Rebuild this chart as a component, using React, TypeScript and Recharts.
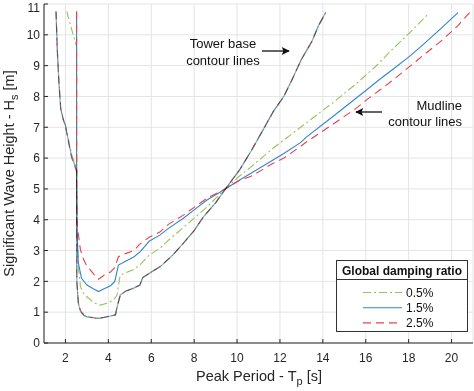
import { LineChart, Line, XAxis, YAxis, CartesianGrid } from 'recharts';

const xTicks = [2, 4, 6, 8, 10, 12, 14, 16, 18, 20];
const yTicks = [0, 1, 2, 3, 4, 5, 6, 7, 8, 9, 10, 11];
const dampingRatios = ['0.5%', '1.5%', '2.5%'];

// tower base contours (the three damping ratios almost coincide)
const towerTp = [1.56, 1.62, 1.7, 1.78, 1.9, 2.0, 2.13, 2.29, 2.42, 2.52, 2.53, 2.6, 2.7, 2.85, 3.0, 3.3, 3.54, 3.8, 4.0, 4.33, 4.42, 4.56, 4.8, 5.18, 5.47, 5.6, 5.95, 6.42, 7.0, 7.5, 8.0, 8.44, 9.0, 9.46, 10.12, 10.63, 11.2, 11.68, 12.18, 12.6, 12.99, 13.5, 13.8, 14.13];
const tower05Hs = [10.76, 9.5, 8.4, 7.6, 7.25, 7.08, 6.65, 6.12, 5.88, 5.65, 2.0, 1.3, 1.02, 0.9, 0.85, 0.82, 0.8, 0.83, 0.86, 0.91, 1.2, 1.56, 1.68, 1.78, 1.88, 2.12, 2.28, 2.48, 2.85, 3.24, 3.65, 4.1, 4.55, 5.0, 5.62, 6.2, 6.9, 7.5, 8.0, 8.6, 9.19, 9.8, 10.3, 10.72];
const tower15Hs = [10.76, 9.5, 8.4, 7.6, 7.25, 7.05, 6.59, 6.05, 5.8, 5.6, 2.0, 1.3, 1.02, 0.9, 0.85, 0.82, 0.8, 0.83, 0.86, 0.91, 1.2, 1.56, 1.68, 1.78, 1.88, 2.12, 2.28, 2.48, 2.85, 3.24, 3.65, 4.1, 4.55, 5.0, 5.62, 6.2, 6.9, 7.5, 8.0, 8.6, 9.19, 9.8, 10.3, 10.72];
const tower25Hs = [10.76, 9.5, 8.4, 7.6, 7.25, 7.03, 6.55, 6.0, 5.75, 5.55, 2.0, 1.32, 1.06, 0.92, 0.86, 0.82, 0.8, 0.83, 0.86, 0.92, 1.22, 1.56, 1.68, 1.78, 1.88, 2.12, 2.28, 2.48, 2.85, 3.24, 3.65, 4.1, 4.55, 5.0, 5.62, 6.2, 6.9, 7.5, 8.0, 8.6, 9.19, 9.8, 10.3, 10.72];

// mudline contours
const mud05Tp = [2.06, 2.3, 2.52, 2.53, 2.6, 2.7, 2.85, 3.0, 3.3, 3.62, 4.0, 4.24, 4.4, 4.55, 4.8, 5.14, 5.5, 5.9, 6.4, 6.74, 7.5, 8.5, 9.45, 10.12, 10.63, 11.68, 12.96, 14.47, 15.54, 16.47, 17.27, 18.1, 18.94];
const mud05Hs = [10.76, 10.15, 9.62, 4.0, 2.5, 1.83, 1.6, 1.5, 1.32, 1.23, 1.3, 1.4, 1.55, 2.2, 2.28, 2.37, 2.55, 2.85, 3.07, 3.3, 3.75, 4.35, 5.0, 5.42, 5.7, 6.32, 7.0, 7.8, 8.4, 8.98, 9.55, 10.1, 10.7];
const mud15Tp = [2.52, 2.52, 2.54, 2.6, 2.75, 3.0, 3.3, 3.54, 3.8, 4.1, 4.3, 4.47, 4.8, 5.2, 5.5, 5.9, 6.4, 6.8, 7.5, 8.0, 8.6, 9.45, 10.12, 10.63, 11.68, 12.18, 12.96, 13.23, 14.47, 15.56, 16.02, 16.64, 17.3, 18.04, 18.7, 19.5, 20.3];
const mud15Hs = [10.76, 5.0, 3.6, 2.6, 2.1, 1.88, 1.76, 1.67, 1.76, 1.86, 2.0, 2.53, 2.65, 2.8, 2.97, 3.3, 3.5, 3.72, 4.05, 4.32, 4.64, 5.0, 5.29, 5.5, 5.94, 6.15, 6.5, 6.68, 7.35, 7.95, 8.2, 8.55, 8.9, 9.3, 9.7, 10.2, 10.72];
const mud25Tp = [2.52, 2.52, 2.55, 2.7, 2.85, 3.0, 3.3, 3.54, 3.8, 4.1, 4.3, 4.47, 4.8, 5.2, 5.45, 5.9, 6.4, 6.8, 7.5, 8.0, 8.6, 9.45, 10.12, 10.63, 11.68, 12.18, 12.96, 13.23, 14.47, 15.56, 16.02, 16.64, 17.3, 18.04, 18.8, 19.6, 20.3, 20.84];
const mud25Hs = [10.76, 5.0, 3.8, 3.02, 2.7, 2.5, 2.25, 2.07, 2.2, 2.3, 2.45, 2.8, 2.9, 3.0, 3.2, 3.43, 3.6, 3.85, 4.15, 4.4, 4.7, 5.0, 5.28, 5.4, 5.83, 6.0, 6.38, 6.52, 7.1, 7.62, 7.88, 8.2, 8.55, 8.97, 9.4, 9.85, 10.3, 10.72];

const styles = [
  { color: '#9cbf5c', dash: '8 3 2 3' },
  { color: '#3385cc', dash: undefined },
  { color: '#e8414a', dash: '8 5' },
];

const FONT = '"Liberation Sans", Arial, Helvetica, sans-serif';
const AXIS = '#262626';

function toPoints(tp: number[], hs: number[]) {
  return tp.map((x, i) => ({ tp: x, hs: hs[i] }));
}

const tower = [toPoints(towerTp, tower05Hs), toPoints(towerTp, tower15Hs), toPoints(towerTp, tower25Hs)];
const mudline = [toPoints(mud05Tp, mud05Hs), toPoints(mud15Tp, mud15Hs), toPoints(mud25Tp, mud25Hs)];

const tickStyle = { fontSize: 12, fill: AXIS, fontFamily: FONT };

export default function App() {
  return (
    <div style={{ position: 'relative', width: 474, height: 391, fontFamily: FONT }}>
      <style>{'body{margin:0} .tower{mix-blend-mode:multiply}'}</style>
      <LineChart width={474} height={391} margin={{ top: 4, right: 1, bottom: 0, left: 0 }}>
        <CartesianGrid stroke="#e4e4e4" />
        <XAxis
          type="number"
          dataKey="tp"
          domain={[1, 21]}
          ticks={xTicks}
          allowDataOverflow
          height={48}
          stroke={AXIS}
          tickSize={-4}
          tickMargin={14}
          tick={tickStyle}
        />
        <XAxis
          xAxisId="top"
          orientation="top"
          type="number"
          dataKey="tp"
          domain={[1, 21]}
          ticks={xTicks}
          height={0}
          stroke={AXIS}
          tickSize={-4}
          tick={false}
        />
        <YAxis
          type="number"
          domain={[0, 11]}
          ticks={yTicks}
          width={44}
          stroke={AXIS}
          tickSize={-4}
          tickMargin={8}
          tick={tickStyle}
        />
        <YAxis
          yAxisId="right"
          orientation="right"
          type="number"
          domain={[0, 11]}
          ticks={yTicks}
          width={0}
          stroke={AXIS}
          tickSize={-4}
          tick={false}
        />
        {mudline.map((d, i) => (
          <Line
            key={'mud' + i}
            data={d}
            dataKey="hs"
            type="linear"
            stroke={styles[i].color}
            strokeDasharray={styles[i].dash}
            strokeWidth={1.1}
            dot={false}
            activeDot={false}
            isAnimationActive={false}
          />
        ))}
        {tower.map((d, i) => (
          <Line
            key={'tower' + i}
            className="tower"
            data={d}
            dataKey="hs"
            type="linear"
            stroke={styles[i].color}
            strokeOpacity={0.65}
            strokeDasharray={styles[i].dash}
            strokeWidth={1.2}
            dot={false}
            activeDot={false}
            isAnimationActive={false}
          />
        ))}
      </LineChart>

      <svg
        width={474}
        height={391}
        style={{ position: 'absolute', left: 0, top: 0, pointerEvents: 'none' }}
        fontFamily={FONT}
      >
        <defs>
          <marker id="head" viewBox="0 0 10 10" refX="9" refY="5" markerWidth="10" markerHeight="8" markerUnits="userSpaceOnUse" orient="auto">
            <path d="M0,0 L10,5 L0,10 L2,5 z" fill="#111" />
          </marker>
        </defs>

        {/* axis titles */}
        <text x={259} y={381} textAnchor="middle" fontSize={14.5} fill={AXIS}>
          Peak Period - T<tspan fontSize={11} dy={4}>p</tspan>
          <tspan dy={-4}> [s]</tspan>
        </text>
        <text transform="translate(14,173.5) rotate(-90)" textAnchor="middle" fontSize={14.5} fill={AXIS}>
          Significant Wave Height - H<tspan fontSize={11} dy={4}>s</tspan>
          <tspan dy={-4}> [m]</tspan>
        </text>

        {/* annotations */}
        <text x={223} y={47.5} textAnchor="middle" fontSize={13} fill="#111">Tower base</text>
        <text x={223} y={65} textAnchor="middle" fontSize={13} fill="#111">contour lines</text>
        <line x1={262} y1={51} x2={289} y2={51} stroke="#111" strokeWidth={1.3} markerEnd="url(#head)" />

        <text x={462} y={110} textAnchor="end" fontSize={13} fill="#111">Mudline</text>
        <text x={462} y={126} textAnchor="end" fontSize={13} fill="#111">contour lines</text>
        <line x1={382} y1={112} x2={356} y2={112} stroke="#111" strokeWidth={1.3} markerEnd="url(#head)" />

        {/* legend */}
        <rect x={336.5} y={260.5} width={131} height={71} fill="#fff" stroke="#333" />
        <line x1={336.5} y1={279.5} x2={467.5} y2={279.5} stroke="#333" />
        <text x={402} y={274.5} textAnchor="middle" fontSize={12} fontWeight="bold" fill="#111">
          Global damping ratio
        </text>
        {dampingRatios.map((label, i) => (
          <g key={label}>
            <line
              x1={363}
              y1={292.5 + i * 15.2}
              x2={402}
              y2={292.5 + i * 15.2}
              stroke={styles[i].color}
              strokeDasharray={styles[i].dash}
              strokeWidth={1.1}
            />
            <text x={406} y={296.8 + i * 15.2} fontSize={12} fill="#111">{label}</text>
          </g>
        ))}
      </svg>
    </div>
  );
}
